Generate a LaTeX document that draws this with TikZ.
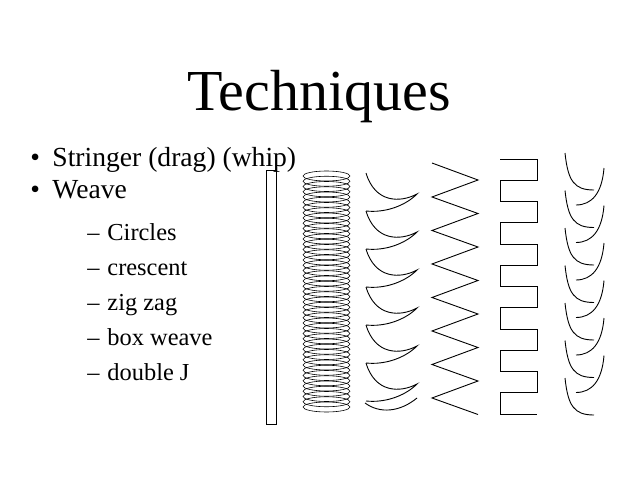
\documentclass[tikz,border=0pt]{standalone}
\usepackage{fontspec}
\setmainfont{Liberation Serif}
\begin{document}
\begin{tikzpicture}[x=1pt,y=-1pt,line width=0.9pt,
  txt/.style={anchor=base west,inner sep=0pt},
  big/.style={txt,font=\fontsize{27.6}{30}\selectfont},
  sub/.style={txt,font=\fontsize{24.4}{28}\selectfont}]
\useasboundingbox (0,0) rectangle (638,479);
\node[font=\fontsize{58}{60}\selectfont,inner sep=0pt] (title) at (319,97) {Techniques};
\node[big] (b1) at (30,166) {•};
\node[big] (t1) at (52,166) {Stringer (drag) (whip)};
\node[big] (b2) at (30,198) {•};
\node[big] (t2) at (52,198) {Weave};
\foreach \t/\y [count=\i] in {Circles/240,crescent/275,zig zag/310,box weave/345,double J/380}{
  \node[sub] (d\i) at (87,\y) {–};
  \node[sub] (s\i) at (107,\y) {\t};
}
% stringer
\draw[line width=1pt] (266,170) rectangle (276,424);
% circles
\foreach \k in {0,...,44}
  \draw[line width=0.6pt] (326.5,{176+\k*5.25}) ellipse (23.5 and 5);
% crescents
\foreach \k in {0,...,5}{
  \pgfmathsetmacro\a{173+\k*38}
  \draw (366,\a) .. controls (375,{\a+30}) and (400,{\a+30}) .. (417,{\a+21})
        .. controls (405,{\a+33}) and (385,{\a+40}) .. (366,{\a+38});
}
\draw (365,403) .. controls (380,414) and (400,412) .. (417,398);
% zigzag
\draw (432,163) \foreach \k in {0,...,7}{ -- (478,{180+\k*33.5}) \ifnum\k<7 -- (432,{197+\k*33.5})\fi };
% box weave
\draw (500,159) -- (537,159)
  \foreach \k in {0,...,5}{ -- (537,{159+(2*\k+1)*21.25}) -- (500,{159+(2*\k+1)*21.25}) -- (500,{159+(2*\k+2)*21.25}) -- (537,{159+(2*\k+2)*21.25}) };
% double J
\foreach \k in {0,...,6}{
  \pgfmathsetmacro\a{153+\k*37.5}
  \draw (565,\a) .. controls (568,{\a+28}) and (574,{\a+37}) .. (594,{\a+37});
  \ifnum\k<6
  \draw (604,{\a+15}) .. controls (602,{\a+40}) and (592,{\a+52}) .. (576,{\a+52});
  \fi
}
\end{tikzpicture}
\end{document}
